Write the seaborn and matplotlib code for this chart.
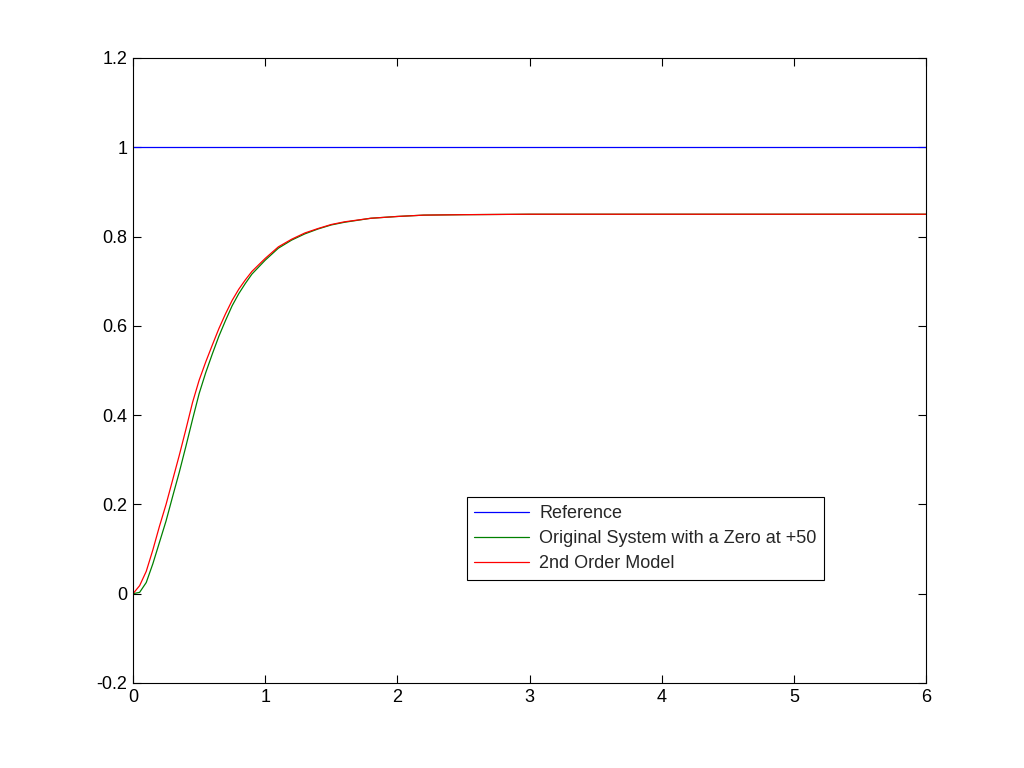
import matplotlib

matplotlib.use("Agg")

import matplotlib.pyplot as plt
import numpy as np
import pandas as pd
import seaborn as sns

# step responses
ref_time = [0.0, 6.0]
ref_values = [1.0, 1.0]

orig_time = [0.0, 0.05, 0.1, 0.15, 0.2, 0.25, 0.3, 0.35, 0.4, 0.45, 0.5, 0.55, 0.6, 0.65,
             0.7, 0.75, 0.8, 0.85, 0.9, 1.0, 1.1, 1.2, 1.3, 1.4, 1.5, 1.6, 1.8, 2.0, 2.2,
             2.5, 3.0, 6.0]
orig_values = [0.0, 0.003, 0.025, 0.067, 0.115, 0.163, 0.218, 0.272, 0.33, 0.39, 0.448,
               0.495, 0.537, 0.577, 0.612, 0.645, 0.672, 0.695, 0.716, 0.747, 0.774,
               0.792, 0.806, 0.817, 0.826, 0.832, 0.841, 0.845, 0.848, 0.849, 0.85, 0.85]

model_time = [0.0, 0.05, 0.1, 0.15, 0.2, 0.25, 0.3, 0.35, 0.4, 0.45, 0.5, 0.55, 0.6, 0.65,
              0.7, 0.75, 0.8, 0.85, 0.9, 1.0, 1.1, 1.2, 1.3, 1.4, 1.5, 1.6, 1.8, 2.0, 2.2,
              2.5, 3.0, 6.0]
model_values = [0.0, 0.018, 0.05, 0.098, 0.151, 0.20, 0.255, 0.31, 0.368, 0.428, 0.478,
                0.519, 0.557, 0.594, 0.627, 0.657, 0.682, 0.703, 0.722, 0.751, 0.777,
                0.794, 0.808, 0.818, 0.827, 0.833, 0.841, 0.845, 0.848, 0.849, 0.85, 0.85]

x_ticks = [0, 1, 2, 3, 4, 5, 6]
y_ticks = [-0.2, 0, 0.2, 0.4, 0.6, 0.8, 1, 1.2]
y_tick_labels = ["-0.2", "0", "0.2", "0.4", "0.6", "0.8", "1", "1.2"]

sns.set_style("white")
plt.rcParams["font.family"] = ["Liberation Sans", "DejaVu Sans"]

fig = plt.figure(figsize=(10.24, 7.68), dpi=100)
ax = fig.add_axes([0.1299, 0.1107, 0.7744, 0.8138])

sns.lineplot(x=ref_time, y=ref_values, ax=ax, color="#0000ff", linewidth=0.9,
             label="Reference")
sns.lineplot(x=orig_time, y=orig_values, ax=ax, color="#008000", linewidth=0.9,
             label="Original System with a Zero at +50")
sns.lineplot(x=model_time, y=model_values, ax=ax, color="#ff0000", linewidth=0.9,
             label="2nd Order Model")

ax.set_xlim(0, 6)
ax.set_ylim(-0.2, 1.2)
ax.set_xticks(x_ticks)
ax.set_xticklabels([str(v) for v in x_ticks])
ax.set_yticks(y_ticks)
ax.set_yticklabels(y_tick_labels)
ax.tick_params(direction="in", length=6, width=0.8, colors="black", labelsize=13,
               top=True, right=True, bottom=True, left=True, pad=4)
for spine in ax.spines.values():
    spine.set_visible(True)
    spine.set_color("black")
    spine.set_linewidth(0.8)

leg = ax.legend(loc="lower left", bbox_to_anchor=(0.421, 0.165), fontsize=13,
                frameon=True, fancybox=False, shadow=False, framealpha=1,
                edgecolor="black", handlelength=3.0, handletextpad=0.6,
                borderaxespad=0, labelspacing=0.45, borderpad=0.42)
leg.get_frame().set_linewidth(0.8)

fig.savefig("out.png", dpi=100, facecolor="white")
